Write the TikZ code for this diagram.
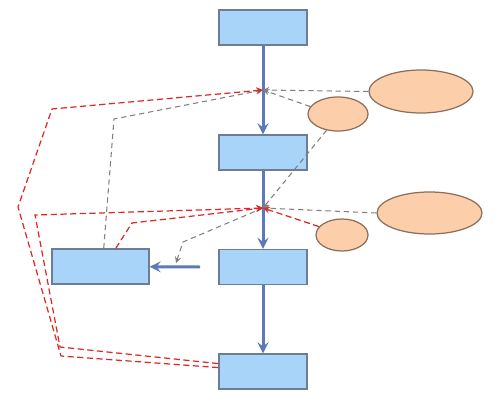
\documentclass[tikz,border=0pt]{standalone}
\usetikzlibrary{shapes.geometric}
\definecolor{boxblue}{RGB}{168,212,250}
\definecolor{boxline}{RGB}{110,125,150}
\definecolor{peach}{RGB}{252,206,170}
\definecolor{peachline}{RGB}{140,110,90}
\definecolor{flowblue}{RGB}{92,122,182}
\definecolor{linkred}{RGB}{222,40,40}
\definecolor{linkgray}{RGB}{128,128,128}
\begin{document}
\begin{tikzpicture}
  \useasboundingbox (0,0) rectangle (10,8);
  \begin{scope}[every node/.style={draw=boxline,fill=boxblue,line width=0.8pt,minimum width=1.76cm,minimum height=0.7cm,inner sep=0pt}]
  \node (a) at (5.26,7.45) {};
  \node (b) at (5.26,4.95) {};
  \node (c) at (5.26,2.66) {};
  \node (d) at (5.26,0.57) {};
  \node[minimum width=1.94cm] (e) at (2.01,2.67) {};
  \end{scope}
  \begin{scope}[every node/.style={ellipse,draw=peachline,fill=peach,line width=0.7pt,inner sep=0pt}]
  \node[minimum width=2.08cm,minimum height=0.86cm] (f) at (8.42,6.17) {};
  \node[minimum width=1.2cm,minimum height=0.68cm] (g) at (6.76,5.72) {};
  \node[minimum width=2.1cm,minimum height=0.84cm] (h) at (8.59,3.74) {};
  \node[minimum width=1.04cm,minimum height=0.64cm] (i) at (6.84,3.3) {};
  \end{scope}
  \coordinate (x) at (5.26,6.2);
  \coordinate (y) at (5.26,3.84);
  \coordinate (z) at (4.0,2.66);
  \coordinate (w) at (3.52,2.74);
  \begin{scope}[every edge/.style={draw=flowblue,line width=1.7pt,-stealth}]
  \path (a) edge (b);
  \path (b) edge (c);
  \path (c) edge (d);
  \path (z) edge (e);
  \end{scope}
  \begin{scope}[every edge/.style={draw=linkgray,dash pattern=on 3pt off 2.2pt,line width=0.6pt,-stealth}]
  \path (f.west) edge (x);
  \path (g.165) edge (x);
  \path (g.235) edge (y);
  \path (h.west) edge (y);
  \end{scope}
  \begin{scope}[linkgray,dash pattern=on 3pt off 2.2pt,line width=0.6pt,-stealth]
  \draw (y) -- (3.66,3.16) -- (w);
  \draw (e.80) -- (2.28,5.62) -- (x);
  \end{scope}
  \begin{scope}[linkred,dash pattern=on 3.5pt off 2pt,line width=0.7pt,-stealth]
  \draw (i.160) -- (y);
  \draw (e.50) -- (2.64,3.54) -- (y);
  \draw (d.170) -- (1.2,1.06) -- (0.7,3.7) -- (y);
  \draw (d.175) -- (1.22,0.88) -- (0.36,3.86) -- (1.04,5.82) -- (x);
  \end{scope}
\end{tikzpicture}
\end{document}
